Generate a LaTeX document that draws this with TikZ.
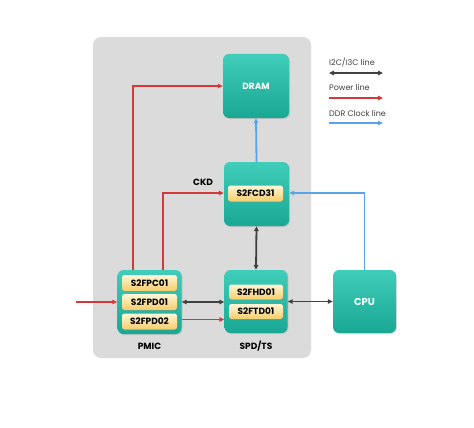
\documentclass[tikz,border=0pt]{standalone}
\usepackage{fontspec}
\setmainfont{Poppins}
\usetikzlibrary{arrows.meta,shadows,calc}
\definecolor{bgray}{HTML}{DBDBDB}
\definecolor{tealtop}{HTML}{40CDBA}
\definecolor{tealbot}{HTML}{19A893}
\definecolor{ylwtop}{HTML}{FFF7D6}
\definecolor{ylwbot}{HTML}{F5CC6A}
\definecolor{pwrred}{HTML}{D23A3A}
\definecolor{clkblue}{HTML}{5BA3E8}
\definecolor{busgray}{HTML}{404040}
\begin{document}
\begin{tikzpicture}[x=1pt,y=-1pt,
  block/.style={rounded corners=6pt, top color=tealtop, bottom color=tealbot, draw=none,
    drop shadow={opacity=0.25, shadow xshift=1pt, shadow yshift=-1pt},
    text=white, font=\bfseries\fontsize{9}{10}\selectfont, inner sep=0pt},
  chip/.style={rounded corners=2.5pt, top color=ylwtop, bottom color=ylwbot, draw=none,
    drop shadow={opacity=0.3, shadow xshift=0.6pt, shadow yshift=-0.8pt},
    text=black, font=\bfseries\fontsize{9}{10}\selectfont, inner sep=0pt,
    minimum width=55pt, minimum height=16pt},
  tag/.style={font=\bfseries\fontsize{9}{10}\selectfont, text=black, inner sep=0pt},
  legtxt/.style={font=\fontsize{8}{9}\selectfont, text=busgray, inner sep=0pt, anchor=west},
  tip/.style={-{Triangle[length=5pt,width=4.5pt]}},
  tips/.style={{Triangle[length=5pt,width=4.5pt]}-{Triangle[length=5pt,width=4.5pt]}},
  pwr/.style={draw=pwrred, line width=1.8pt, tip},
  clk/.style={draw=clkblue, line width=1.8pt, tip},
  bus/.style={draw=busgray, line width=1.8pt, tips}]
\useasboundingbox (0,0) rectangle (474,428);
\fill[bgray, rounded corners=8pt] (93,37) rectangle (311,358);

% blocks
\node[block, minimum width=66pt, minimum height=64pt] (dram) at (256,86) {DRAM};
\node[block, minimum width=65pt, minimum height=64pt] (ckd) at (256.5,194) {};
\node[block, minimum width=63pt, minimum height=63pt] (spd) at (256,301.5) {};
\node[block, minimum width=64pt, minimum height=64pt] (pmic) at (149.5,302) {};
\node[block, minimum width=63pt, minimum height=63pt, font=\bfseries\fontsize{10}{11}\selectfont] (cpu) at (364.5,301.5) {CPU};

% chips
\node[chip] (fcd31) at (255.5,193.5) {S2FCD31};
\node[chip, minimum width=54pt, minimum height=15pt] (fhd01) at (256,292) {S2FHD01};
\node[chip, minimum width=54pt, minimum height=15pt] (ftd01) at (256,311.5) {S2FTD01};
\node[chip] (fpc01) at (149.5,283) {S2FPC01};
\node[chip] (fpd01) at (149.5,302) {S2FPD01};
\node[chip] (fpd02) at (149.5,321.5) {S2FPD02};

% tags
\node[tag] (tpmic) at (149.5,346) {PMIC};
\node[tag] (tspd) at (256,346) {SPD/TS};
\node[tag] (tckd) at (203,182) {CKD};

% connectors
\coordinate (pin) at (76,302);
\draw[pwr] (pin) -- (pmic.west);
\draw[pwr] ([xshift=-16.5pt]pmic.north) |- (dram.west);
\draw[pwr] ([xshift=13.5pt]pmic.north) |- ([yshift=1pt]ckd.west);
\draw[bus] (pmic.east |- fpd01) -- (spd.west |- fpd01);
\draw[pwr] ([yshift=2pt]pmic.east |- fpd02) -- ([yshift=2pt]spd.west |- fpd02);
\draw[bus] (ckd.south) -- (spd.north);
\draw[clk] (ckd.north) -- (dram.south);
\draw[clk] (cpu.north) |- ([yshift=1pt]ckd.east);
\draw[bus] (spd.east) -- (cpu.west);

% legend
\node[legtxt] (l1) at (329,62) {I2C/I3C line};
\coordinate (l1a) at (329,73); \coordinate (l1b) at (383,73);
\draw[bus] (l1a) -- (l1b);
\node[legtxt] (l2) at (329,87) {Power line};
\coordinate (l2a) at (329,98); \coordinate (l2b) at (383,98);
\draw[pwr] (l2a) -- (l2b);
\node[legtxt] (l3) at (329,113) {DDR Clock line};
\coordinate (l3a) at (329,123); \coordinate (l3b) at (383,123);
\draw[clk] (l3a) -- (l3b);
\end{tikzpicture}
\end{document}
